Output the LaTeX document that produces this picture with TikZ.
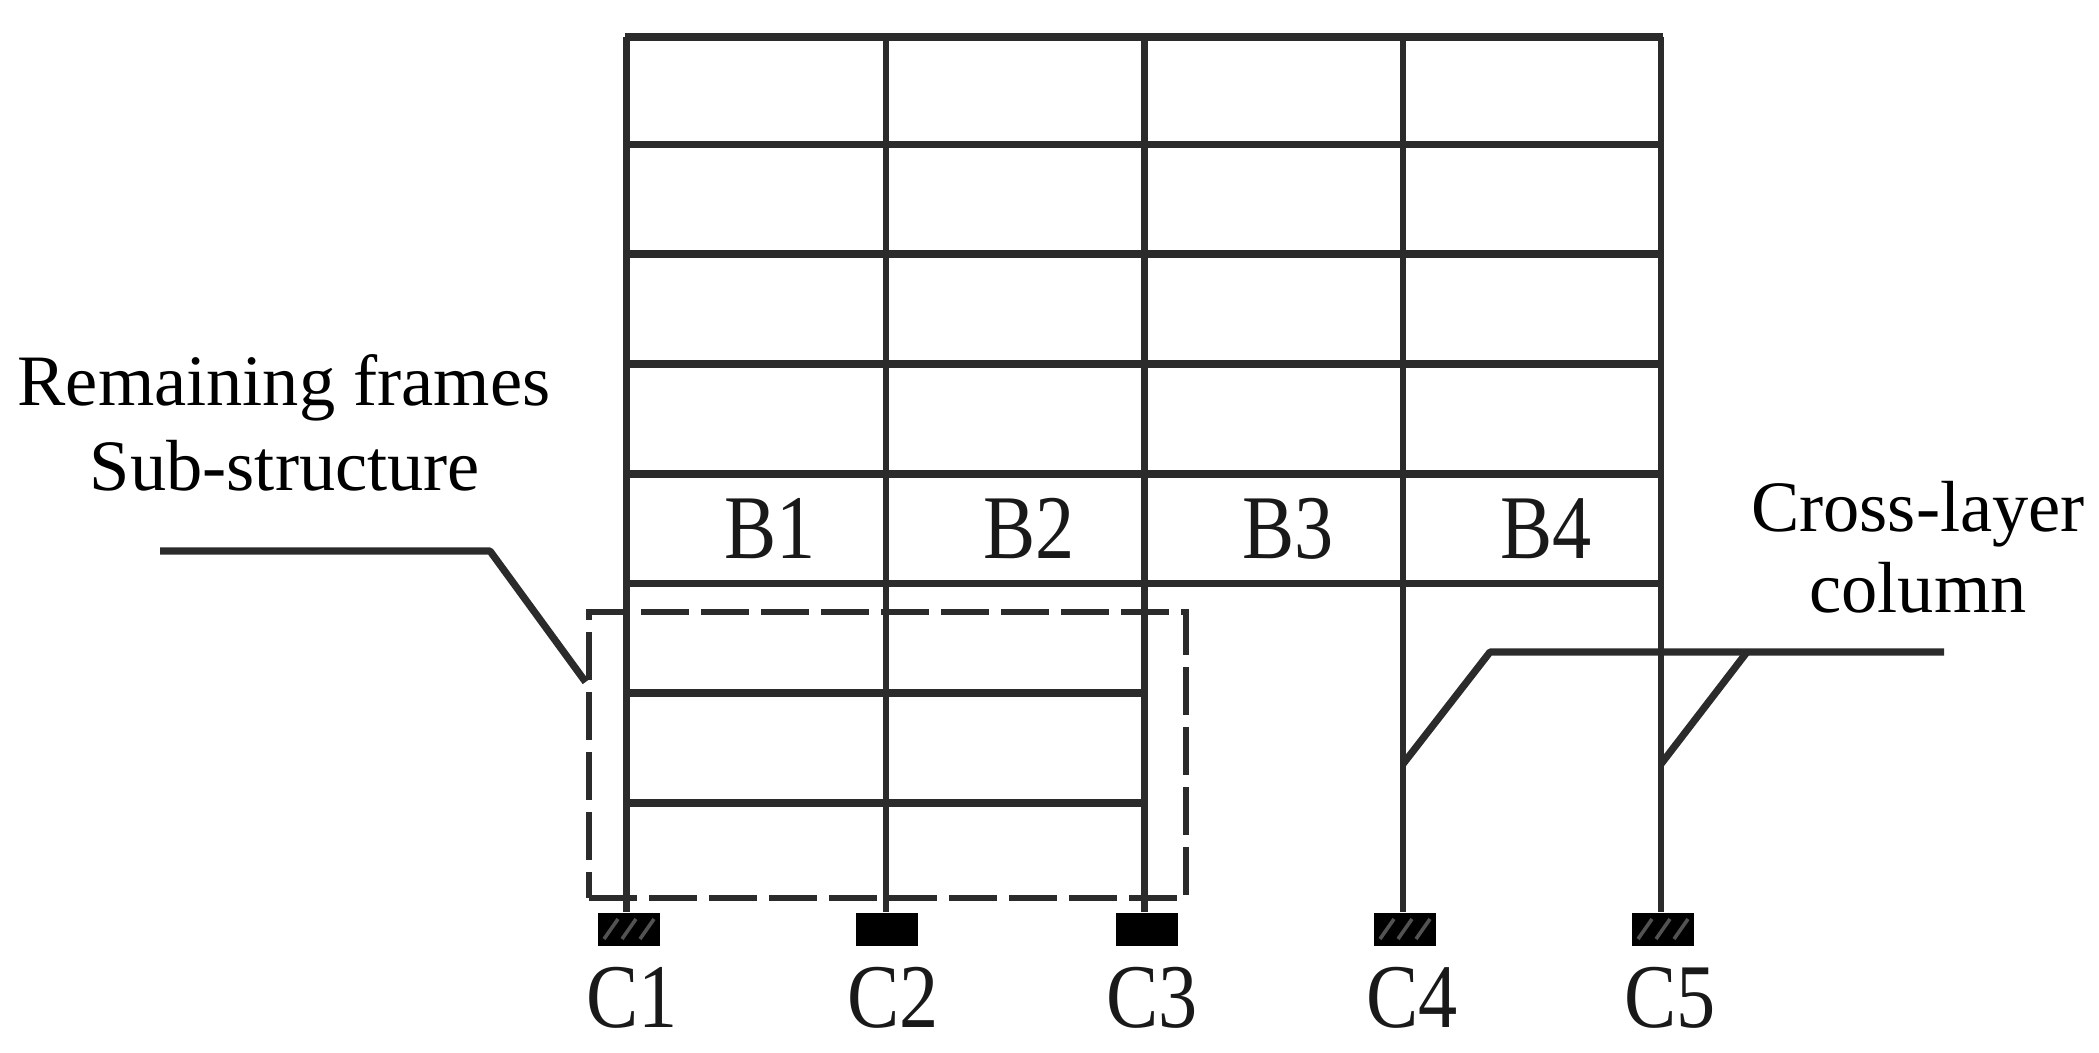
\documentclass[tikz,border=0pt]{standalone}
\usepackage{fontspec}
\setmainfont{Liberation Serif}
\definecolor{ink}{gray}{0.17}
\definecolor{hatch}{gray}{0.32}
\tikzset{
  x=0.5pt,y=-0.5pt,
  frameline/.style={draw=ink,line width=3.2pt,line cap=butt},
  beamline/.style={draw=ink,line width=3.6pt,line cap=butt},
  leaderline/.style={draw=ink,line width=3.6pt,line join=bevel},
  dashbox/.style={draw=ink,line width=3.4pt,dash pattern=on 24pt off 6pt,inner sep=0pt,minimum width=298.5pt,minimum height=143pt},
  support/.style={fill=black,draw=none,inner sep=0pt,minimum width=31pt,minimum height=16.5pt},
  hatchline/.style={draw=hatch,line width=1.8pt},
  txt/.style={inner sep=0pt,text=black,font=\fontsize{36.2}{36.2}\selectfont,anchor=base},
  tall/.style={inner sep=0pt,text=black!90,font=\fontsize{45.5}{45.5}\selectfont,anchor=base},
}
\newcommand{\narrow}[1]{\scalebox{.86}[1]{#1}}
\begin{document}
\begin{tikzpicture}
\useasboundingbox (0,0) rectangle (2099,1053);
% column tops
\coordinate (T1) at (626.5,37);
\coordinate (T2) at (886,37);
\coordinate (T3) at (1144.5,37);
\coordinate (T4) at (1403,37);
\coordinate (T5) at (1661,37);
% supports
\node[support] (S1) at (629,929) {};
\node[support] (S2) at (887,929) {};
\node[support] (S3) at (1147,929) {};
\node[support] (S4) at (1405,929) {};
\node[support] (S5) at (1663,929) {};
% hatching on supports
\foreach \n in {1,4,5}{
  \foreach \d in {-18,0,18}{
    \draw[hatchline] ([xshift=\d*0.5pt-3.5pt,yshift=-5pt]S\n.center) -- ([xshift=\d*0.5pt+3.5pt,yshift=5pt]S\n.center);
  }
}
% columns
\foreach \n in {1,...,5}{
  \draw[frameline] (T\n) -- (T\n |- S\n.north);
}
% beams
\foreach \y in {37,144.5,254,364,474,583.5}{
  \draw[beamline] (624.9,\y) -- (1662.6,\y);
}
\foreach \y in {693,803}{
  \draw[beamline] (626.5,\y) -- (1144.5,\y);
}
% sub-structure box
\node[dashbox] (box) at (887.5,755) {};
% leaders
\coordinate (L1) at (160,551);
\coordinate (L2) at (490,551);
\coordinate (R1) at (1944,652);
\coordinate (R2) at (1490,652);
\coordinate (R3) at (1747,652);
\coordinate (C4p) at (1403,764);
\coordinate (C5p) at (1661,764);
\draw[leaderline] (L1) -- (L2) -- (box.west |- 0,682);
\draw[leaderline] (R1) -- (R2) -- (C4p);
\draw[leaderline] (R3) -- (C5p);
% labels
\node[txt] (t1) at (284,406) {Remaining frames};
\node[txt] (t2) at (285,491) {Sub-structure};
\node[txt] (t3) at (1918,531) {Cross-layer};
\node[txt] (t4) at (1918,612) {column};
\node[tall] (B1) at (770,559) {\narrow{B1}};
\node[tall] (B2) at (1029,559) {\narrow{B2}};
\node[tall] (B3) at (1288,559) {\narrow{B3}};
\node[tall] (B4) at (1546,559) {\narrow{B4}};
\node[tall] (C1) at (632,1027) {\narrow{C1}};
\node[tall] (C2) at (893,1027) {\narrow{C2}};
\node[tall] (C3) at (1152,1027) {\narrow{C3}};
\node[tall] (C4) at (1412,1027) {\narrow{C4}};
\node[tall] (C5) at (1670,1027) {\narrow{C5}};
\end{tikzpicture}
\end{document}
